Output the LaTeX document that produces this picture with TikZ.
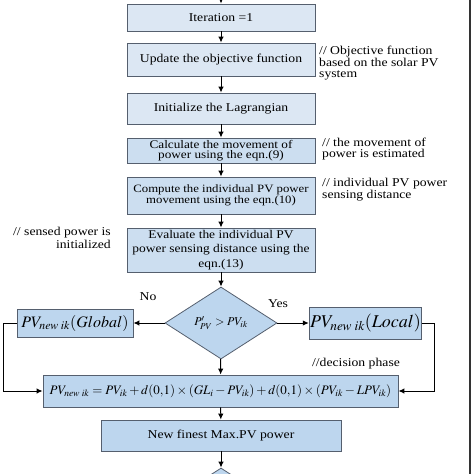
\documentclass[tikz,border=0pt]{standalone}
\usepackage{mathptmx}
\usepackage{fontspec}
\setmainfont{Liberation Serif}[FakeStretch=1.14]
\usetikzlibrary{shapes,arrows,arrows.meta,positioning}

\definecolor{paleblue}{RGB}{220,231,243}
\definecolor{midblue}{RGB}{204,222,240}
\definecolor{deepblue}{RGB}{189,214,238}
\definecolor{boxline}{RGB}{85,95,110}

\begin{document}
\begin{tikzpicture}[x=1pt,y=-1pt,>={Latex[length=6pt,width=5.5pt]}]
            \tikzstyle{box}=[rectangle,draw=boxline,line width=0.8pt,align=center,inner sep=1pt,font=\fontsize{12}{11}\selectfont]
            \tikzstyle{step1}=[box,minimum width=188pt,fill=paleblue]   % upper steps
            \tikzstyle{step2}=[box,minimum width=188pt,fill=midblue]    % sensing steps
            \tikzstyle{step3}=[box,fill=deepblue]                       % lower part
            \tikzstyle{dec}=[diamond,draw=boxline,line width=0.8pt,fill=deepblue,minimum width=112pt,minimum height=72pt,inner sep=0pt,aspect=1.55,font=\fontsize{12}{12}\selectfont]
            \tikzstyle{note}=[align=left,inner sep=0pt,font=\fontsize{12}{10.5}\selectfont]
            \tikzstyle{label}=[inner sep=1pt,font=\fontsize{12}{12}\selectfont]

            \tikzstyle{every edge}=[draw,line width=1pt]

            \useasboundingbox (0,0) rectangle (474,474);
            \clip (0,0) rectangle (474,474);

            \node[step1,minimum height=27pt] (iter)   at (221, 17.5) {Iteration =1};
            \node[step1,minimum height=33pt] (update) at (221, 59.5) {Update the objective function};
            \node[step1,minimum height=31pt] (init)   at (221,108.5) {Initialize the Lagrangian};
            \node[step2,minimum height=25pt,inner sep=0.5pt,font=\fontsize{11.6}{10.4}\selectfont] (calc) at (221,150.5) {Calculate the movement of\\power using the eqn.(9)};
            \node[step2,minimum height=37pt,font=\fontsize{11.2}{11}\selectfont] (comp) at (221,195.5) {Compute the individual PV power\\movement using the eqn.(10)};
            \node[step2,minimum height=44pt,font=\fontsize{11.8}{14.5}\selectfont] (eval) at (221,250) {Evaluate the individual PV\\power sensing distance using the\\eqn.(13)};

            \node[note,anchor=north west] (objnote)  at (319, 46) {// Objective function\\based on the solar PV\\system};
            \node[note,anchor=north west] (movnote)  at (322,138) {// the movement of\\power is estimated};
            \node[note,anchor=north west] (distnote) at (322,178) {// individual PV power\\sensing distance};
            \node[note,anchor=north east,align=right,font=\fontsize{12}{13}\selectfont] (sensnote) at (111,227) {// sensed power is\\initialized};

            \node[dec] (check) at (221,323) {$P'_{PV} > PV_{ik}$};
            \node[step3,minimum width=116pt,minimum height=28pt,font=\fontsize{16}{16}\selectfont] (global) at (75,323) {$PV_{new\;ik}(Global)$};
            \node[step3,minimum width=107pt,minimum height=32pt,font=\fontsize{18}{18}\selectfont] (local) at (365.5,323) {$PV_{new\;ik}(Local)$};

            \node[label] (no)    at (148,297) {No};
            \node[label] (yes)   at (278,304) {Yes};
            \node[label] (phase) at (356,364) {//decision phase};

            \node[step3,minimum width=355pt,minimum height=32pt,font=\fontsize{13}{13}\selectfont] (update2) at (220.5,391)
                {$PV_{new\;ik} = PV_{ik} + d(0{,}1)\times(GL_i - PV_{ik}) + d(0{,}1)\times(PV_{ik} - LPV_{ik})$};
            \node[step3,minimum width=240pt,minimum height=31pt] (best) at (221,435.5) {New finest Max.PV power};
            \node[dec] (next) at (221,504) {};

            \coordinate (start) at (221,0);
            \coordinate (gturn) at (3,323);
            \coordinate (lturn) at (434,323);

            \path[->] (start)  edge (iter);
            \path[->] (iter)   edge (update);
            \path[->] (update) edge (init);
            \path[->] (init)   edge (calc);
            \path[->] (calc)   edge (comp);
            \path[->] (comp)   edge (eval);
            \path[->] (eval)   edge (check);
            \path[->] (check)  edge (global);
            \path[->] (check)  edge (local);
            \path[->] (check)  edge (update2);
            \path[->] (update2) edge (best);
            \path[->] (best)   edge (next);

            \draw[->,line width=1pt] (global.west) -- (gturn) |- (update2.west);
            \draw[->,line width=1pt] (local.east) -- (lturn) |- (update2.east);

            % frame edge on the right
            \draw[line width=1.6pt,black!80] (470,0) -- (470,474);
        \end{tikzpicture}
\end{document}
